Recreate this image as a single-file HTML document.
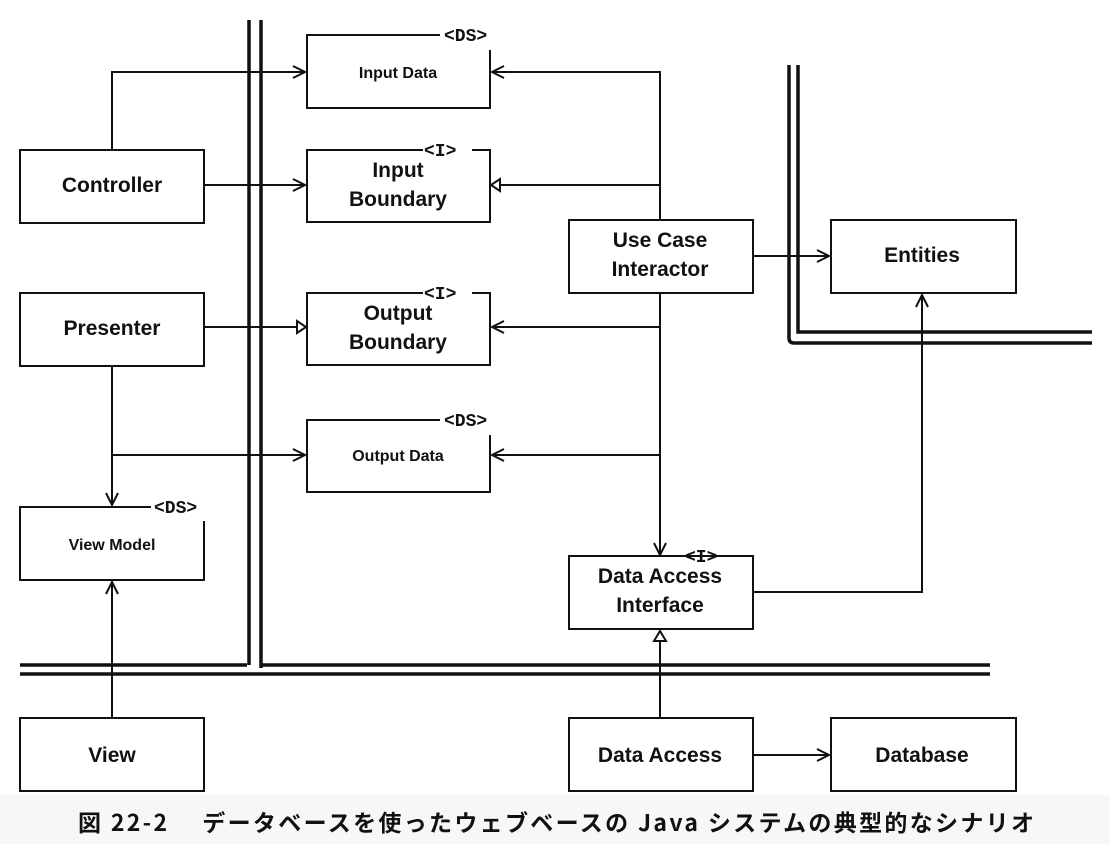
<!DOCTYPE html>
<html><head><meta charset="utf-8"><style>
html,body{margin:0;padding:0;background:#fff;width:1110px;height:844px;overflow:hidden}
svg{display:block}
.b{font-family:"Liberation Sans",sans-serif;font-weight:bold;fill:#111;text-anchor:middle}
.m{font-family:"Liberation Mono",monospace;font-weight:bold;fill:#111;font-size:18px}
</style></head><body>
<svg width="1110" height="844" viewBox="0 0 1110 844">
<rect x="0" y="795" width="1110" height="49" fill="#f7f7f7"/>
<g fill="none" stroke="#111" stroke-width="2">
<rect x="20" y="150" width="184" height="73"/>
<rect x="20" y="293" width="184" height="73"/>
<rect x="569" y="220" width="184" height="73"/>
<rect x="831" y="220" width="185" height="73"/>
<rect x="569" y="556" width="184" height="73"/>
<rect x="20" y="718" width="184" height="73"/>
<rect x="569" y="718" width="184" height="73"/>
<rect x="831" y="718" width="185" height="73"/>
<path d="M440,35 H307 V108 H490 V50"/>
<path d="M440,420 H307 V492 H490 V435"/>
<path d="M151,507 H20 V580 H204 V521"/>
<path d="M423,150 H307 V222 H490 V150 H472"/>
<path d="M423,293 H307 V365 H490 V293 H472"/>
<path d="M684,556 H569 V629 H753 V556 H729"/>
<path d="M112,150 V72 H305"/>
<path d="M204,185 H305"/>
<path d="M660,220 V72 H492"/>
<path d="M660,185 H500"/>
<path d="M660,293 V555"/>
<path d="M660,327 H492"/>
<path d="M660,455 H492"/>
<path d="M753,256 H829"/>
<path d="M204,327 H297"/>
<path d="M112,366 V505"/>
<path d="M112,455 H305"/>
<path d="M112,718 V582"/>
<path d="M753,592 H922 V295"/>
<path d="M660,718 V641"/>
<path d="M753,755 H829"/>
<path d="M293,66 L305,72 L293,78"/>
<path d="M293,179 L305,185 L293,191"/>
<path d="M504,66 L492,72 L504,78"/>
<path d="M504,321 L492,327 L504,333"/>
<path d="M504,449 L492,455 L504,461"/>
<path d="M817,250 L829,256 L817,262"/>
<path d="M293,449 L305,455 L293,461"/>
<path d="M106,493 L112,505 L118,493"/>
<path d="M106,594 L112,582 L118,594"/>
<path d="M654,543 L660,555 L666,543"/>
<path d="M916,307 L922,295 L928,307"/>
<path d="M817,749 L829,755 L817,761"/>
<path d="M500,179 L491,185 L500,191 Z"/>
<path d="M297,321 L306,327 L297,333 Z"/>
<path d="M654,641 L660,631 L666,641 Z"/>
</g>
<g fill="none" stroke="#111" stroke-width="3.5">
<path d="M249,20 V665"/>
<path d="M261,20 V668"/>
<path d="M20,665 H247"/>
<path d="M261,665 H990"/>
<path d="M20,674 H990"/>
<path d="M798,65 V332 H1092"/>
<path d="M789,65 V338 Q789,343 794,343 H1092"/>
</g>
<text class="m" x="444" y="41">&lt;DS&gt;</text>
<text class="m" x="444" y="426">&lt;DS&gt;</text>
<text class="m" x="154" y="513">&lt;DS&gt;</text>
<text class="m" x="424" y="156">&lt;I&gt;</text>
<text class="m" x="424" y="299">&lt;I&gt;</text>
<text class="m" x="685" y="562">&lt;I&gt;</text>
<g class="b" font-size="21">
<text x="112" y="192">Controller</text>
<text x="112" y="335">Presenter</text>
<text x="398" y="177">Input</text>
<text x="398" y="206">Boundary</text>
<text x="398" y="320">Output</text>
<text x="398" y="349">Boundary</text>
<text x="660" y="247">Use Case</text>
<text x="660" y="276">Interactor</text>
<text x="922" y="262">Entities</text>
<text x="660" y="583">Data Access</text>
<text x="660" y="612">Interface</text>
<text x="112" y="762">View</text>
<text x="660" y="762">Data Access</text>
<text x="922" y="762">Database</text>
</g>
<g class="b" font-size="16">
<text x="398" y="78">Input Data</text>
<text x="398" y="461">Output Data</text>
<text x="112" y="550">View Model</text>
</g>
<text x="78" y="831" font-family="'Noto Sans CJK JP',sans-serif" font-weight="bold" font-size="23" fill="#111" textLength="956" lengthAdjust="spacing">図 22-2　 データベースを使ったウェブベースの Java  システムの典型的なシナリオ</text>
</svg>
</body></html>
